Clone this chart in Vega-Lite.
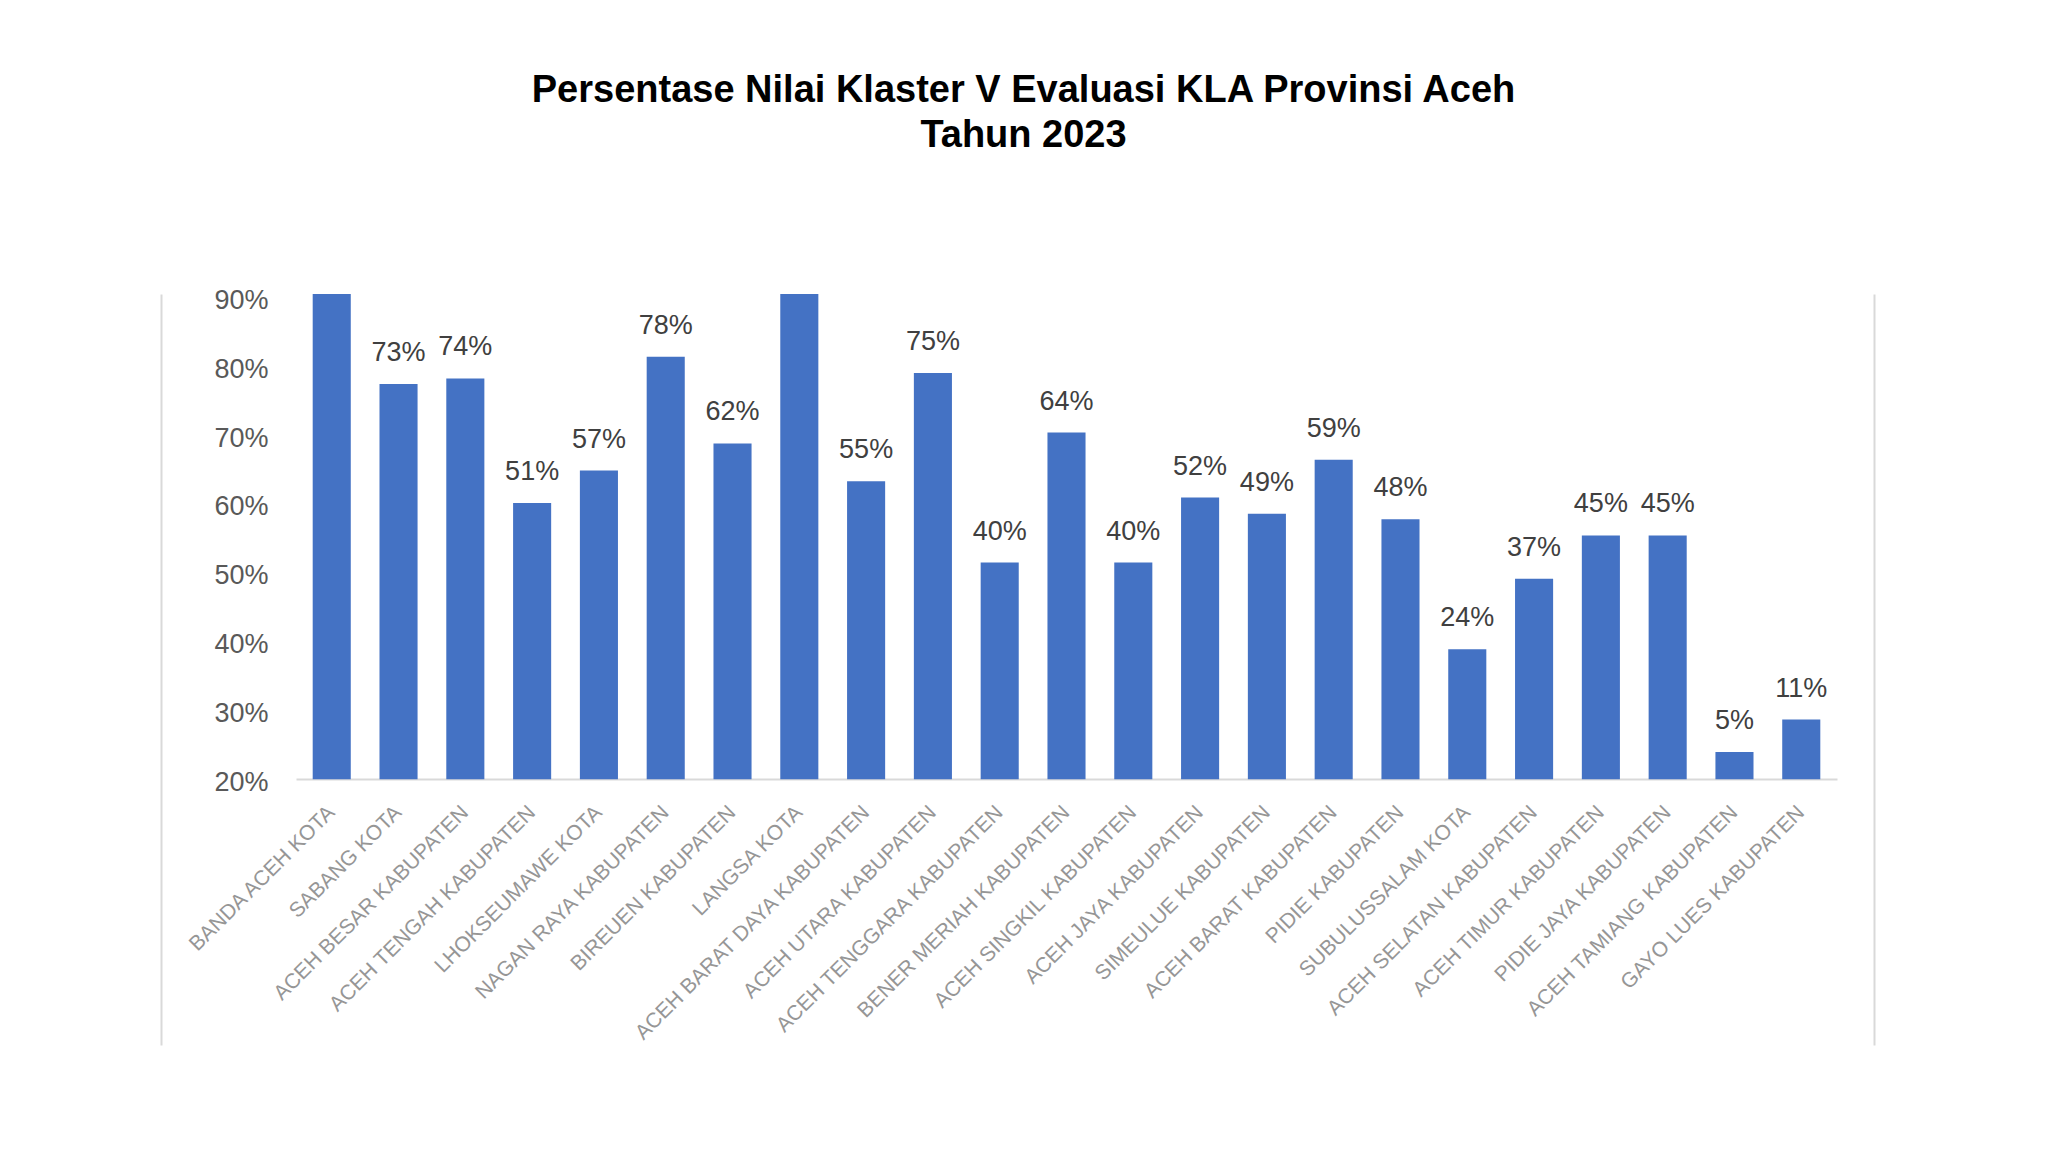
{
  "$schema": "https://vega.github.io/schema/vega-lite/v6.json",
  "autosize": "none",
  "width": 1541,
  "height": 751,
  "padding": {"left": 296, "top": 294, "right": 211, "bottom": 107},
  "background": "white",
  "title": {
    "text": ["Persentase Nilai Klaster V Evaluasi KLA Provinsi Aceh", "Tahun 2023"],
    "font": "Liberation Sans",
    "fontSize": 38,
    "fontWeight": "bold",
    "color": "#000000",
    "lineHeight": 45,
    "anchor": "middle",
    "dx": -43,
    "offset": 132
  },
  "data": {
    "values": [
      {"wilayah": "BANDA ACEH KOTA", "nilai": 1.00},
      {"wilayah": "SABANG KOTA", "nilai": 0.73},
      {"wilayah": "ACEH BESAR KABUPATEN", "nilai": 0.74},
      {"wilayah": "ACEH TENGAH KABUPATEN", "nilai": 0.51},
      {"wilayah": "LHOKSEUMAWE KOTA", "nilai": 0.57},
      {"wilayah": "NAGAN RAYA KABUPATEN", "nilai": 0.78},
      {"wilayah": "BIREUEN KABUPATEN", "nilai": 0.62},
      {"wilayah": "LANGSA KOTA", "nilai": 1.00},
      {"wilayah": "ACEH BARAT DAYA KABUPATEN", "nilai": 0.55},
      {"wilayah": "ACEH UTARA KABUPATEN", "nilai": 0.75},
      {"wilayah": "ACEH TENGGARA KABUPATEN", "nilai": 0.40},
      {"wilayah": "BENER MERIAH KABUPATEN", "nilai": 0.64},
      {"wilayah": "ACEH SINGKIL KABUPATEN", "nilai": 0.40},
      {"wilayah": "ACEH JAYA KABUPATEN", "nilai": 0.52},
      {"wilayah": "SIMEULUE KABUPATEN", "nilai": 0.49},
      {"wilayah": "ACEH BARAT KABUPATEN", "nilai": 0.59},
      {"wilayah": "PIDIE KABUPATEN", "nilai": 0.48},
      {"wilayah": "SUBULUSSALAM KOTA", "nilai": 0.24},
      {"wilayah": "ACEH SELATAN KABUPATEN", "nilai": 0.37},
      {"wilayah": "ACEH TIMUR KABUPATEN", "nilai": 0.45},
      {"wilayah": "PIDIE JAYA KABUPATEN", "nilai": 0.45},
      {"wilayah": "ACEH TAMIANG KABUPATEN", "nilai": 0.05},
      {"wilayah": "GAYO LUES KABUPATEN", "nilai": 0.11}
    ]
  },
  "encoding": {
    "x": {
      "field": "wilayah",
      "type": "nominal",
      "sort": null,
      "scale": {"paddingInner": 0.43, "paddingOuter": 0.25},
      "axis": {
        "title": null,
        "offset": -266,
        "ticks": false,
        "domainColor": "#d9d9d9",
        "domainWidth": 2,
        "labelAngle": -45,
        "labelAlign": "right",
        "labelBaseline": "middle",
        "labelPadding": 30,
        "labelOffset": 0,
        "labelFont": "Liberation Sans",
        "labelFontSize": 21,
        "labelColor": "#969696",
        "labelOverlap": false,
        "labelLimit": 0
      }
    },
    "y": {
      "field": "nilai",
      "type": "quantitative",
      "scale": {"domain": [-0.491, 0.896], "nice": false, "zero": false}
    }
  },
  "layer": [
    {
      "mark": {"type": "bar", "color": "#4472C4", "clip": true},
      "encoding": {
        "y2": {"datum": 0},
        "y": {
          "field": "nilai",
          "type": "quantitative",
          "axis": {
            "title": null,
            "orient": "left",
            "offset": 135,
            "grid": false,
            "ticks": false,
            "domainColor": "#d9d9d9",
            "domainWidth": 2,
            "values": [0, 0.12706, 0.25412, 0.38118, 0.50824, 0.6353, 0.76236, 0.88942],
            "labelExpr": "format(round(20 + datum.value * 100 / 1.2706), 'd') + '%'",
            "labelAlign": "right",
            "labelBaseline": "middle",
            "labelPadding": -107,
            "labelOffset": 3,
            "labelFont": "Liberation Sans",
            "labelFontSize": 27,
            "labelColor": "#595959"
          }
        }
      }
    },
    {
      "mark": {
        "type": "text",
        "baseline": "alphabetic",
        "dy": -23,
        "font": "Liberation Sans",
        "fontSize": 27,
        "color": "#404040",
        "clip": true
      },
      "encoding": {
        "text": {"field": "nilai", "type": "quantitative", "format": ".0%"},
        "y": {
          "field": "nilai",
          "type": "quantitative",
          "axis": {
            "title": null,
            "orient": "right",
            "offset": 37,
            "grid": false,
            "ticks": false,
            "labels": false,
            "domainColor": "#d9d9d9",
            "domainWidth": 2
          }
        }
      }
    }
  ],
  "resolve": {"axis": {"y": "independent"}},
  "config": {
    "view": {"stroke": null}
  }
}
